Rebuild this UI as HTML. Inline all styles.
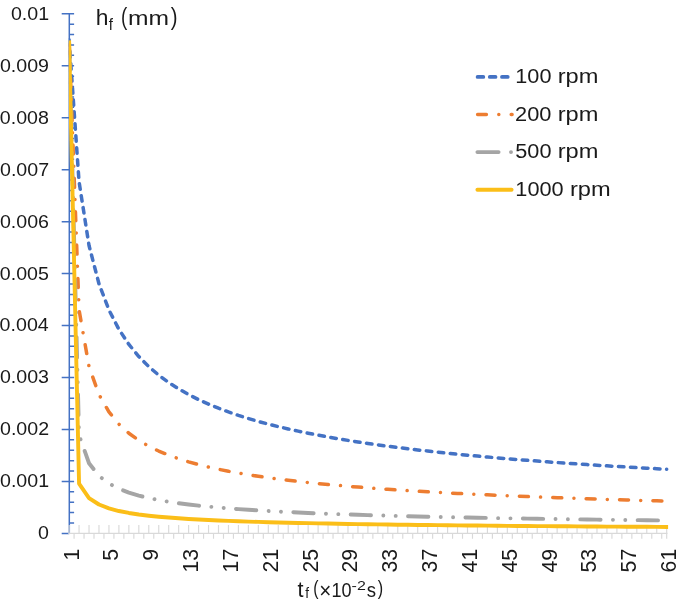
<!DOCTYPE html>
<html lang="en"><head><meta charset="utf-8"><title>hf vs tf</title>
<style>html,body{margin:0;padding:0;background:#fff}svg{display:block}</style>
</head><body>
<svg width="685" height="604" viewBox="0 0 685 604">
<rect width="685" height="604" fill="#fff"/>
<g stroke="#4472C4" stroke-width="1.5" fill="none">
<path d="M69.30 13.80 V533.40"/>
<path d="M61.70 533.40 H69.30 M61.70 481.44 H69.30 M61.70 429.48 H69.30 M61.70 377.52 H69.30 M61.70 325.56 H69.30 M61.70 273.60 H69.30 M61.70 221.64 H69.30 M61.70 169.68 H69.30 M61.70 117.72 H69.30 M61.70 65.76 H69.30 M61.70 13.80 H69.30 M69.30 523.01 H74.10 M69.30 512.62 H74.10 M69.30 502.22 H74.10 M69.30 491.83 H74.10 M69.30 481.44 H74.10 M69.30 471.05 H74.10 M69.30 460.66 H74.10 M69.30 450.26 H74.10 M69.30 439.87 H74.10 M69.30 429.48 H74.10 M69.30 419.09 H74.10 M69.30 408.70 H74.10 M69.30 398.30 H74.10 M69.30 387.91 H74.10 M69.30 377.52 H74.10 M69.30 367.13 H74.10 M69.30 356.74 H74.10 M69.30 346.34 H74.10 M69.30 335.95 H74.10 M69.30 325.56 H74.10 M69.30 315.17 H74.10 M69.30 304.78 H74.10 M69.30 294.38 H74.10 M69.30 283.99 H74.10 M69.30 273.60 H74.10 M69.30 263.21 H74.10 M69.30 252.82 H74.10 M69.30 242.42 H74.10 M69.30 232.03 H74.10 M69.30 221.64 H74.10 M69.30 211.25 H74.10 M69.30 200.86 H74.10 M69.30 190.46 H74.10 M69.30 180.07 H74.10 M69.30 169.68 H74.10 M69.30 159.29 H74.10 M69.30 148.90 H74.10 M69.30 138.50 H74.10 M69.30 128.11 H74.10 M69.30 117.72 H74.10 M69.30 107.33 H74.10 M69.30 96.94 H74.10 M69.30 86.54 H74.10 M69.30 76.15 H74.10 M69.30 65.76 H74.10 M69.30 55.37 H74.10 M69.30 44.98 H74.10 M69.30 34.58 H74.10 M69.30 24.19 H74.10 M69.30 13.80 H74.10"/>
</g>
<g stroke="#D9D9D9" stroke-width="1.15" fill="none">
<path d="M68.35 533.40 H667.45"/>
<path d="M69.10 533.40 V525.00 M79.06 533.40 V525.00 M89.02 533.40 V525.00 M98.98 533.40 V525.00 M108.94 533.40 V525.00 M118.90 533.40 V525.00 M128.86 533.40 V525.00 M138.82 533.40 V525.00 M148.78 533.40 V525.00 M158.74 533.40 V525.00 M168.70 533.40 V525.00 M178.66 533.40 V525.00 M188.62 533.40 V525.00 M198.58 533.40 V525.00 M208.54 533.40 V525.00 M218.50 533.40 V525.00 M228.46 533.40 V525.00 M238.42 533.40 V525.00 M248.38 533.40 V525.00 M258.34 533.40 V525.00 M268.30 533.40 V525.00 M278.26 533.40 V525.00 M288.22 533.40 V525.00 M298.18 533.40 V525.00 M308.14 533.40 V525.00 M318.10 533.40 V525.00 M328.06 533.40 V525.00 M338.02 533.40 V525.00 M347.98 533.40 V525.00 M357.94 533.40 V525.00 M367.90 533.40 V525.00 M377.86 533.40 V525.00 M387.82 533.40 V525.00 M397.78 533.40 V525.00 M407.74 533.40 V525.00 M417.70 533.40 V525.00 M427.66 533.40 V525.00 M437.62 533.40 V525.00 M447.58 533.40 V525.00 M457.54 533.40 V525.00 M467.50 533.40 V525.00 M477.46 533.40 V525.00 M487.42 533.40 V525.00 M497.38 533.40 V525.00 M507.34 533.40 V525.00 M517.30 533.40 V525.00 M527.26 533.40 V525.00 M537.22 533.40 V525.00 M547.18 533.40 V525.00 M557.14 533.40 V525.00 M567.10 533.40 V525.00 M577.06 533.40 V525.00 M587.02 533.40 V525.00 M596.98 533.40 V525.00 M606.94 533.40 V525.00 M616.90 533.40 V525.00 M626.86 533.40 V525.00 M636.82 533.40 V525.00 M646.78 533.40 V525.00 M656.74 533.40 V525.00 M666.70 533.40 V525.00 M74.08 533.40 V538.80 M84.04 533.40 V538.80 M94.00 533.40 V538.80 M103.96 533.40 V538.80 M113.92 533.40 V538.80 M123.88 533.40 V538.80 M133.84 533.40 V538.80 M143.80 533.40 V538.80 M153.76 533.40 V538.80 M163.72 533.40 V538.80 M173.68 533.40 V538.80 M183.64 533.40 V538.80 M193.60 533.40 V538.80 M203.56 533.40 V538.80 M213.52 533.40 V538.80 M223.48 533.40 V538.80 M233.44 533.40 V538.80 M243.40 533.40 V538.80 M253.36 533.40 V538.80 M263.32 533.40 V538.80 M273.28 533.40 V538.80 M283.24 533.40 V538.80 M293.20 533.40 V538.80 M303.16 533.40 V538.80 M313.12 533.40 V538.80 M323.08 533.40 V538.80 M333.04 533.40 V538.80 M343.00 533.40 V538.80 M352.96 533.40 V538.80 M362.92 533.40 V538.80 M372.88 533.40 V538.80 M382.84 533.40 V538.80 M392.80 533.40 V538.80 M402.76 533.40 V538.80 M412.72 533.40 V538.80 M422.68 533.40 V538.80 M432.64 533.40 V538.80 M442.60 533.40 V538.80 M452.56 533.40 V538.80 M462.52 533.40 V538.80 M472.48 533.40 V538.80 M482.44 533.40 V538.80 M492.40 533.40 V538.80 M502.36 533.40 V538.80 M512.32 533.40 V538.80 M522.28 533.40 V538.80 M532.24 533.40 V538.80 M542.20 533.40 V538.80 M552.16 533.40 V538.80 M562.12 533.40 V538.80 M572.08 533.40 V538.80 M582.04 533.40 V538.80 M592.00 533.40 V538.80 M601.96 533.40 V538.80 M611.92 533.40 V538.80 M621.88 533.40 V538.80 M631.84 533.40 V538.80 M641.80 533.40 V538.80 M651.76 533.40 V538.80 M661.72 533.40 V538.80 M666.70 533.40 V538.80"/>
</g>
<defs><clipPath id="plot"><rect x="68.8" y="0" width="620" height="540"/></clipPath></defs>
<g fill="none" stroke-linecap="round" stroke-linejoin="round" clip-path="url(#plot)">
<path stroke="#4472C4" stroke-width="3.5" stroke-dasharray="5.5 6.55" stroke-dashoffset="5.35" d="M666.70 469.24 L656.74 468.71 L646.78 468.17 L636.82 467.61 L626.86 467.03 L616.90 466.44 L606.94 465.84 L596.98 465.22 L587.02 464.58 L577.06 463.92 L567.10 463.24 L557.14 462.54 L547.18 461.82 L537.22 461.08 L527.26 460.32 L517.30 459.53 L507.34 458.71 L497.38 457.87 L487.42 457.00 L477.46 456.09 L467.50 455.16 L457.54 454.18 L447.58 453.18 L437.62 452.13 L427.66 451.04 L417.70 449.90 L407.74 448.72 L397.78 447.48 L387.82 446.19 L377.86 444.84 L367.90 443.43 L357.94 441.94 L347.98 440.38 L338.02 438.74 L328.06 437.00 L318.10 435.17 L308.14 433.22 L298.18 431.16 L288.22 428.96 L278.26 426.62 L268.30 424.11 L258.34 421.42 L248.38 418.51 L238.42 415.37 L228.46 411.95 L218.50 408.22 L208.54 404.13 L198.58 399.60 L188.62 394.56 L178.66 388.90 L168.70 382.50 L158.74 375.15 L148.78 366.62 L138.82 356.54 L128.86 344.38 L118.90 329.31 L108.94 309.95 L98.98 283.77 L89.02 245.51 L79.06 181.71 L69.10 39.78"/>
<path stroke="#ED7D31" stroke-width="3.5" stroke-dasharray="9 12.2 0.01 12.19" stroke-dashoffset="28.6" d="M666.70 501.12 L656.74 500.85 L646.78 500.57 L636.82 500.28 L626.86 499.99 L616.90 499.69 L606.94 499.38 L596.98 499.06 L587.02 498.73 L577.06 498.40 L567.10 498.05 L557.14 497.69 L547.18 497.33 L537.22 496.95 L527.26 496.55 L517.30 496.15 L507.34 495.73 L497.38 495.30 L487.42 494.85 L477.46 494.39 L467.50 493.90 L457.54 493.40 L447.58 492.88 L437.62 492.34 L427.66 491.78 L417.70 491.20 L407.74 490.58 L397.78 489.95 L387.82 489.28 L377.86 488.58 L367.90 487.84 L357.94 487.07 L347.98 486.26 L338.02 485.40 L328.06 484.50 L318.10 483.54 L308.14 482.52 L298.18 481.44 L288.22 480.28 L278.26 479.05 L268.30 477.72 L258.34 476.29 L248.38 474.75 L238.42 473.08 L228.46 471.25 L218.50 469.24 L208.54 467.03 L198.58 464.58 L188.62 461.82 L178.66 458.71 L168.70 455.16 L158.74 451.04 L148.78 446.19 L138.82 440.38 L128.86 433.22 L118.90 424.11 L108.94 411.95 L98.98 394.56 L89.02 366.62 L79.06 309.95 L69.10 39.78"/>
<path stroke="#A5A5A5" stroke-width="3.9" stroke-dasharray="20.35 12.35 0.01 12.35 0.01 12.34" stroke-dashoffset="48.71" d="M666.70 520.46 L656.74 520.35 L646.78 520.24 L636.82 520.13 L626.86 520.01 L616.90 519.89 L606.94 519.76 L596.98 519.64 L587.02 519.50 L577.06 519.37 L567.10 519.23 L557.14 519.09 L547.18 518.94 L537.22 518.79 L527.26 518.63 L517.30 518.46 L507.34 518.30 L497.38 518.12 L487.42 517.94 L477.46 517.75 L467.50 517.56 L457.54 517.36 L447.58 517.15 L437.62 516.93 L427.66 516.70 L417.70 516.47 L407.74 516.22 L397.78 515.96 L387.82 515.69 L377.86 515.41 L367.90 515.11 L357.94 514.80 L347.98 514.47 L338.02 514.12 L328.06 513.76 L318.10 513.37 L308.14 512.96 L298.18 512.52 L288.22 512.05 L278.26 511.55 L268.30 511.01 L258.34 510.43 L248.38 509.80 L238.42 509.12 L228.46 508.37 L218.50 507.55 L208.54 506.65 L198.58 505.64 L188.62 504.51 L178.66 503.23 L168.70 501.77 L158.74 500.06 L148.78 498.05 L138.82 495.62 L128.86 492.62 L118.90 488.76 L108.94 483.54 L98.98 475.92 L89.02 463.24 L79.06 435.17 L69.10 39.78"/>
<path stroke="#FBBE18" stroke-width="3.9" stroke-linecap="butt" d="M69.10 40.40 L79.06 483.54 L89.02 498.05 L98.98 504.51 L108.94 508.37 L118.90 511.01 L128.86 512.96 L138.82 514.47 L148.78 515.69 L158.74 516.70 L168.70 517.56 L178.66 518.30 L188.62 518.94 L198.58 519.50 L208.54 520.01 L218.50 520.46 L228.46 520.87 L238.42 521.25 L248.38 521.59 L258.34 521.90 L268.30 522.20 L278.26 522.47 L288.22 522.72 L298.18 522.95 L308.14 523.17 L318.10 523.38 L328.06 523.57 L338.02 523.76 L347.98 523.93 L357.94 524.09 L367.90 524.25 L377.86 524.40 L387.82 524.54 L397.78 524.68 L407.74 524.81 L417.70 524.93 L427.66 525.05 L437.62 525.16 L447.58 525.27 L457.54 525.38 L467.50 525.48 L477.46 525.57 L487.42 525.67 L497.38 525.76 L507.34 525.85 L517.30 525.93 L527.26 526.01 L537.22 526.09 L547.18 526.17 L557.14 526.24 L567.10 526.31 L577.06 526.38 L587.02 526.45 L596.98 526.52 L606.94 526.58 L616.90 526.64 L626.86 526.70 L636.82 526.76 L646.78 526.82 L656.74 526.88 L666.70 526.93 L668.10 526.93"/>
</g>
<g fill="none" stroke-linecap="round">
<path stroke="#4472C4" stroke-width="3.8" stroke-dasharray="5.7 6.5" d="M477.60 76.90 H511.60"/>
<path stroke="#ED7D31" stroke-width="3.5" stroke-dasharray="8.8 12.4 0.01 12.4" d="M477.60 114.50 H512.10"/>
<path stroke="#A5A5A5" stroke-width="3.9" stroke-dasharray="21.2 12.4 0.01 12.4 0.01 12.4" d="M477.40 152.10 H511.60"/>
<path stroke="#FBBE18" stroke-width="3.9" d="M477.40 189.70 H511.60"/>
</g>
<g font-family="'Liberation Sans', sans-serif" fill="#1a1a1a">
<text transform="matrix(1.0904 0 0 1.0016 37.99 539.32)" font-size="18">0</text>
<text transform="matrix(1.0904 0 0 1.0016 0.01 487.36)" font-size="18">0.001</text>
<text transform="matrix(1.0904 0 0 1.0016 0.01 435.40)" font-size="18">0.002</text>
<text transform="matrix(1.0904 0 0 1.0016 -0.08 383.44)" font-size="18">0.003</text>
<text transform="matrix(1.0904 0 0 1.0016 -0.38 331.48)" font-size="18">0.004</text>
<text transform="matrix(1.0904 0 0 1.0016 -0.18 279.52)" font-size="18">0.005</text>
<text transform="matrix(1.0904 0 0 1.0016 -0.08 227.56)" font-size="18">0.006</text>
<text transform="matrix(1.0904 0 0 1.0016 0.01 175.60)" font-size="18">0.007</text>
<text transform="matrix(1.0904 0 0 1.0016 -0.18 123.64)" font-size="18">0.008</text>
<text transform="matrix(1.0904 0 0 1.0016 -0.08 71.68)" font-size="18">0.009</text>
<text transform="matrix(1.0904 0 0 1.0016 10.91 19.72)" font-size="18">0.01</text>
<text transform="matrix(0 -1.0101 1.0932 0 78.70 560.61)" font-size="21">1</text>
<text transform="matrix(0 -1.0101 1.0932 0 118.31 560.82)" font-size="21">5</text>
<text transform="matrix(0 -1.0101 1.0932 0 158.15 560.72)" font-size="21">9</text>
<text transform="matrix(0 -1.0101 1.0932 0 197.99 572.49)" font-size="21">13</text>
<text transform="matrix(0 -1.0101 1.0932 0 238.06 572.38)" font-size="21">17</text>
<text transform="matrix(0 -1.0101 1.0932 0 277.90 572.38)" font-size="21">21</text>
<text transform="matrix(0 -1.0101 1.0932 0 317.51 572.60)" font-size="21">25</text>
<text transform="matrix(0 -1.0101 1.0932 0 357.35 572.49)" font-size="21">29</text>
<text transform="matrix(0 -1.0101 1.0932 0 397.19 572.49)" font-size="21">33</text>
<text transform="matrix(0 -1.0101 1.0932 0 437.03 572.38)" font-size="21">37</text>
<text transform="matrix(0 -1.0101 1.0932 0 477.10 572.38)" font-size="21">41</text>
<text transform="matrix(0 -1.0101 1.0932 0 516.71 572.60)" font-size="21">45</text>
<text transform="matrix(0 -1.0101 1.0932 0 556.55 572.49)" font-size="21">49</text>
<text transform="matrix(0 -1.0101 1.0932 0 596.39 572.49)" font-size="21">53</text>
<text transform="matrix(0 -1.0101 1.0932 0 636.23 572.38)" font-size="21">57</text>
<text transform="matrix(0 -1.0101 1.0932 0 676.07 572.38)" font-size="21">61</text>
<text transform="matrix(1.0323 0 0 0.9826 515.32 83.29)" font-size="21">100</text>
<text transform="matrix(1.1261 0 0 0.9270 557.71 83.26)" font-size="21">rpm</text>
<text transform="matrix(1.0385 0 0 0.9826 515.11 120.89)" font-size="21">200</text>
<text transform="matrix(1.1261 0 0 0.9270 557.71 120.86)" font-size="21">rpm</text>
<text transform="matrix(1.0320 0 0 0.9826 515.33 158.49)" font-size="21">500</text>
<text transform="matrix(1.1261 0 0 0.9270 557.71 158.46)" font-size="21">rpm</text>
<text transform="matrix(1.0336 0 0 0.9826 515.32 196.09)" font-size="21">1000</text>
<text transform="matrix(1.1261 0 0 0.9270 569.91 196.06)" font-size="21">rpm</text>
<text transform="matrix(1.0390 0 0 1.0219 95.70 24.50)" font-size="22">h</text>
<text transform="matrix(1.0063 0 0 1.1126 108.87 29.90)" font-size="15">f</text>
<text transform="matrix(0.8576 0 0 1.0647 121.07 24.68)" font-size="22">(</text>
<text transform="matrix(1.1193 0 0 0.9428 128.10 24.50)" font-size="22">mm</text>
<text transform="matrix(0.9266 0 0 1.0647 170.70 24.68)" font-size="22">)</text>
<text transform="matrix(1.0271 0 0 1.0462 297.38 597.28)" font-size="21">t</text>
<text transform="matrix(1.0450 0 0 1.1247 305.20 597.80)" font-size="13">f</text>
<text transform="matrix(0.7547 0 0 0.9473 313.15 595.32)" font-size="21">(</text>
<text transform="matrix(0.9845 0 0 1.0166 319.15 597.85)" font-size="21">×</text>
<text transform="matrix(0.8615 0 0 0.9725 331.54 597.30)" font-size="21">10</text>
<text transform="matrix(1.2288 0 0 1.0330 351.58 590.20)" font-size="13">-2</text>
<text transform="matrix(0.8867 0 0 0.9611 366.84 597.40)" font-size="21">s</text>
<text transform="matrix(0.7692 0 0 0.9473 377.74 595.32)" font-size="21">)</text>
</g>
</svg>
</body></html>
